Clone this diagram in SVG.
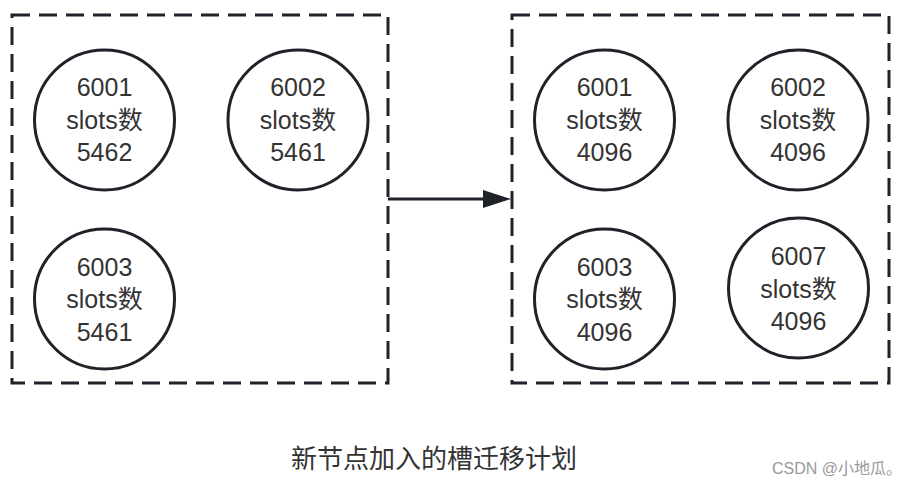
<svg xmlns="http://www.w3.org/2000/svg" width="910" height="486" viewBox="0 0 910 486">
<defs>
<style>
.box{fill:none;stroke:#1f2329;stroke-width:3;stroke-dasharray:18 9;}
.node circle{fill:#fff;stroke:#1f2329;stroke-width:3;}
.node text{font-family:"Liberation Sans","Noto Sans CJK SC",sans-serif;font-size:25px;fill:#333;text-anchor:middle;}
.cap{font-family:"Noto Sans CJK SC",sans-serif;font-size:26px;fill:#333;text-anchor:middle;}
.wm{font-family:"Liberation Sans","Noto Sans CJK SC",sans-serif;font-size:16px;fill:#999;}
</style>
</defs>
<rect width="910" height="486" fill="#fff"/>
<g id="cluster-before"><rect class="box" x="12" y="15" width="376" height="368"/></g>
<g id="cluster-after"><rect class="box" x="512" y="15" width="377" height="368"/></g>
<g id="connectors">
<path d="M388,199 H497" stroke="#1f2329" stroke-width="3" fill="none"/>
<path d="M483,190 L511,199 L483,208 Z" fill="#1f2329"/>
</g>
<g id="n6001a" class="node"><circle cx="104.5" cy="120" r="70"/><text x="104.5" y="96">6001</text><text x="104.5" y="128.5">slots数</text><text x="104.5" y="161">5462</text></g>
<g id="n6002a" class="node"><circle cx="298" cy="120" r="70"/><text x="298" y="96">6002</text><text x="298" y="128.5">slots数</text><text x="298" y="161">5461</text></g>
<g id="n6003a" class="node"><circle cx="104.5" cy="299" r="70"/><text x="104.5" y="275.5">6003</text><text x="104.5" y="308">slots数</text><text x="104.5" y="340.5">5461</text></g>
<g id="n6001b" class="node"><circle cx="604.5" cy="120" r="70"/><text x="604.5" y="96">6001</text><text x="604.5" y="128.5">slots数</text><text x="604.5" y="161">4096</text></g>
<g id="n6002b" class="node"><circle cx="798" cy="120" r="70"/><text x="798" y="96">6002</text><text x="798" y="128.5">slots数</text><text x="798" y="161">4096</text></g>
<g id="n6003b" class="node"><circle cx="604.5" cy="299" r="70"/><text x="604.5" y="275.5">6003</text><text x="604.5" y="308">slots数</text><text x="604.5" y="340.5">4096</text></g>
<g id="n6007b" class="node"><circle cx="798.5" cy="288" r="70"/><text x="798.5" y="265">6007</text><text x="798.5" y="297.5">slots数</text><text x="798.5" y="330">4096</text></g>
<text class="cap" x="434" y="468">新节点加入的槽迁移计划</text>
<text class="wm" x="772" y="474">CSDN @小地瓜。</text>
</svg>
